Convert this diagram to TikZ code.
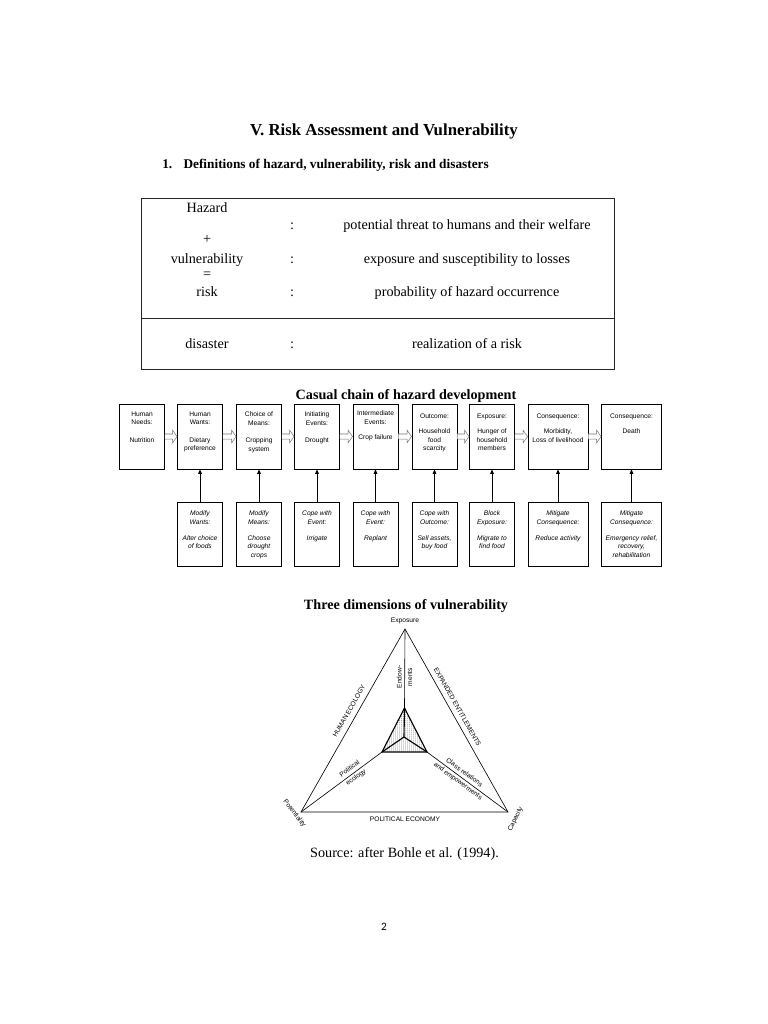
\documentclass[tikz,border=0pt]{standalone}
\usepackage{fontspec}
\setmainfont{Liberation Serif}
\setsansfont{Liberation Sans}
\newfontfamily\pagenumfont{Carlito}
\usetikzlibrary{arrows.meta,positioning,calc,patterns.meta}

\begin{document}
\begin{tikzpicture}[x=0.797pt,y=-0.797pt,
  body/.style={font=\fontsize{11.3}{13.6}\selectfont,anchor=base,inner sep=0pt},
  head/.style={body,font=\bfseries\fontsize{11.3}{13.6}\selectfont},
  cbox/.style={draw,line width=.75pt,minimum width=35.9pt,minimum height=51.8pt,inner sep=0pt},
  wbox/.style={cbox,minimum width=47.8pt},
  mbox/.style={cbox,minimum height=51pt},
  ctext/.style={font=\sffamily\fontsize{5.3}{6.8}\selectfont,align=center,anchor=north,inner sep=0pt},
  mtext/.style={ctext,font=\sffamily\itshape\fontsize{5.3}{6.8}\selectfont},
  harr/.style={draw=black!55,fill=white,line width=.4pt,
    to path={let \p1=(\tikztostart.east),\p2=(\tikztotarget.west) in
      (\x1,\y1+2pt) -- (\x2-3.5pt,\y1+2pt) -- (\x2-3.5pt,\y1+5pt) -- (\x2,\y1)
      -- (\x2-3.5pt,\y1-5pt) -- (\x2-3.5pt,\y1-2pt) -- (\x1,\y1-2pt)}},
  varr/.style={-{Triangle[length=3.5pt,width=3pt]},line width=.6pt},
  tlab/.style={font=\sffamily\fontsize{5.3}{6.4}\selectfont,align=center,inner sep=0pt},
  split/.style={tlab,font=\sffamily\fontsize{5.3}{8.5}\selectfont}]
\useasboundingbox (0,0) rectangle (768,1024);

% headings
\node[body,font=\bfseries\fontsize{13.4}{16}\selectfont] (title) at (384,135) {V. Risk Assessment and Vulnerability};
\node[head,font=\bfseries\fontsize{10.6}{12.8}\selectfont,anchor=base east] (sub) at (489,168.5) {1.\hspace{9pt}Definitions of hazard, vulnerability, risk and disasters};

% definitions table
\draw[line width=.6pt,black!85] (141,198) rectangle (614,369);
\draw[line width=.6pt,black!85] (141,318) -- (614,318);
\node[body] (hz) at (207,212.5) {Hazard};
\node[body] (c1) at (292,229.5) {:};\node[body] (d1) at (467,229.5) {potential threat to humans and their welfare};
\node[body] (pl) at (207,243.5) {+};
\node[body] (vu) at (207,263.5) {vulnerability};
\node[body] (c2) at (292,263.5) {:};\node[body] (d2) at (467,263.5) {exposure and susceptibility to losses};
\node[body] (eq) at (207,278.5) {=};
\node[body] (rk) at (207,296.5) {risk};
\node[body] (c3) at (292,296.5) {:};\node[body] (d3) at (467,296.5) {probability of hazard occurrence};
\node[body] (ds) at (207,348.5) {disaster};
\node[body] (c4) at (292,348.5) {:};\node[body] (d4) at (467,348.5) {realization of a risk};

% causal chain
\node[head] (cc) at (406,399.5) {Casual chain of hazard development};
\node[cbox] (h1) at (142,436.5) {};\node[ctext] (h1t) at (142,411.5) {Human\\Needs:\\[7.2pt]Nutrition};
\node[cbox] (h2) at (200,436.5) {};\node[ctext] (h2t) at (200,411.5) {Human\\Wants:\\[7.2pt]Dietary\\preference};
\node[cbox] (h3) at (259,436.5) {};\node[ctext] (h3t) at (259,411.5) {Choice of\\Means:\\[7.2pt]Cropping\\system};
\node[cbox] (h4) at (317,436.5) {};\node[ctext] (h4t) at (317,411.5) {Initiating\\Events:\\[7.2pt]Drought};
\node[cbox] (h5) at (375.5,436.5) {};\node[ctext] (h5t) at (375.5,410.5) {Intermediate\\Events:\\[5.3pt]Crop failure};
\node[cbox] (h6) at (434.5,436.5) {};\node[ctext] (h6t) at (434.5,413.5) {Outcome:\\[5.3pt]Household\\food\\scarcity};
\node[cbox] (h7) at (492,436.5) {};\node[ctext] (h7t) at (492,413.5) {Exposure:\\[5.3pt]Hunger of\\household\\members};
\node[wbox] (h8) at (558,436.5) {};\node[ctext] (h8t) at (558,413.5) {Consequence:\\[5.3pt]Morbidity,\\Loss of livelihood};
\node[wbox] (h9) at (631.5,436.5) {};\node[ctext] (h9t) at (631.5,413.5) {Consequence:\\[5.3pt]Death};
\foreach \a/\b in {h1/h2,h2/h3,h3/h4,h4/h5,h5/h6,h6/h7,h7/h8,h8/h9}
  \draw[harr] (\a) to (\b);

% responses
\node[mbox] (m2) at (200,534) {};\node[mtext] (m2t) at (200,510.5) {Modify\\Wants:\\[5.9pt]Alter choice\\of foods};
\node[mbox] (m3) at (259,534) {};\node[mtext] (m3t) at (259,510.5) {Modify\\Means:\\[5.9pt]Choose\\drought\\crops};
\node[mbox] (m4) at (317,534) {};\node[mtext] (m4t) at (317,510.5) {Cope with\\Event:\\[5.9pt]Irrigate};
\node[mbox] (m5) at (375.5,534) {};\node[mtext] (m5t) at (375.5,510.5) {Cope with\\Event:\\[5.9pt]Replant};
\node[mbox] (m6) at (434.5,534) {};\node[mtext] (m6t) at (434.5,510.5) {Cope with\\Outcome:\\[5.9pt]Sell assets,\\buy food};
\node[mbox] (m7) at (492,534) {};\node[mtext] (m7t) at (492,510.5) {Block\\Exposure:\\[5.9pt]Migrate to\\find food};
\node[mbox,minimum width=47.8pt] (m8) at (558,534) {};\node[mtext] (m8t) at (558,510.5) {Mitigate\\Consequence:\\[5.9pt]Reduce activity};
\node[mbox,minimum width=47.8pt] (m9) at (631.5,534) {};\node[mtext] (m9t) at (631.5,510.5) {Mitigate\\Consequence:\\[5.9pt]Emergency relief,\\recovery,\\rehabilitation};
\foreach \i in {2,...,9}
  \draw[varr] (m\i) -- (h\i);

% three dimensions
\node[head] (td) at (406,609.5) {Three dimensions of vulnerability};
\coordinate (ex) at (405,629);\coordinate (po) at (301,812);\coordinate (ca) at (508,812);
\coordinate (ie) at (404.5,708);\coordinate (ip) at (382,752);\coordinate (ic) at (427,752);\coordinate (io) at (404,737);
\draw[line width=.5pt] (ex) -- (po) -- (ca) -- cycle;
\draw[line width=.5pt] (ex) -- (ie) (po) -- (ip) (ca) -- (ic);
\draw[line width=.9pt,pattern={Dots[distance=1.6pt,radius=.3pt]},pattern color=black!70] (ie) -- (ip) -- (ic) -- cycle;
\draw[line width=.9pt] (io) -- (ie) (io) -- (ip) (io) -- (ic);
\node[tlab] (exl) at (405,621) {Exposure};
\node[tlab,rotate=-52] (pol) at (294.5,813.5) {Potentiality};
\node[tlab,rotate=64] (cal) at (515.5,819) {Capacity};
\node[tlab,rotate=60.4] (hel) at (349,711) {HUMAN ECOLOGY};
\node[tlab,rotate=-60.4] (eel) at (457.5,707) {EXPANDED ENTITLEMENTS};
\node[tlab] (pel) at (405,819) {POLITICAL ECONOMY};
\node[split,rotate=90] (enl) at (404.5,677) {Endow-\\ments};
\node[split,rotate=36.5] (pe) at (353,773.5) {Political\\ecology};
\node[split,rotate=-36.5] (cr) at (461,777) {Class relations\\and empowerments};

\node[body] (src) at (404.5,857.5) {Source: after Bohle et al. (1994).};
\node[body,font=\pagenumfont\fontsize{9}{11}\selectfont] (pg) at (384,930) {2};
\end{tikzpicture}
\end{document}
